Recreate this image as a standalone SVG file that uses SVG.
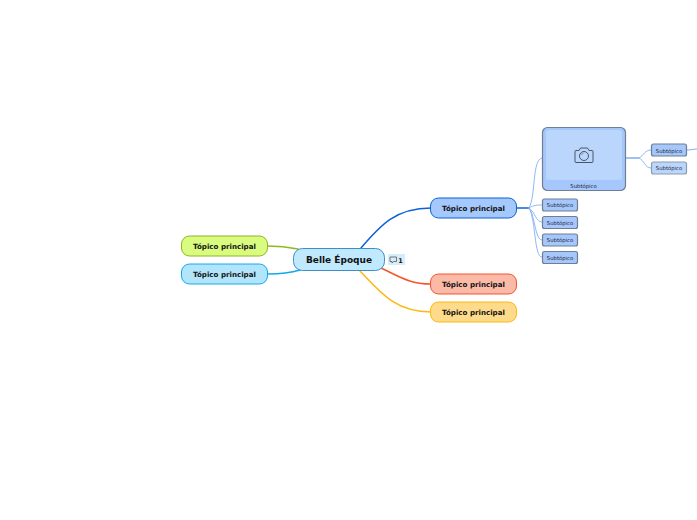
<svg xmlns="http://www.w3.org/2000/svg" width="697" height="520" viewBox="0 0 697 520">
<style>
text{font-family:"DejaVu Sans",Verdana,sans-serif;text-anchor:middle;fill:#111}
.t{font-size:7.1px;font-weight:bold}
.s{font-size:5.3px;fill:#223}
.c{fill:none;stroke-linecap:round}
.l{stroke:#90b8f3;stroke-width:1;fill:none}
.sub{fill:#a5c7fb;stroke:#6f7e96;stroke-width:1.200}
</style>
<rect width="697" height="520" fill="#fff"/>
<g id="connectors">
<path class="c" stroke="#0b62d6" stroke-width="1.500" d="M361 248C380 226 395 208 431 208"/>
<path class="c" stroke="#f4552a" stroke-width="1.500" d="M381 268C400 277 410 284 431 284"/>
<path class="c" stroke="#fdb813" stroke-width="1.500" d="M360 271C380 292 395 312 431 312"/>
<path class="c" stroke="#8fb820" stroke-width="1.500" d="M268 246C280 246 288 247 298 249"/>
<path class="c" stroke="#12a8ee" stroke-width="1.500" d="M268 274C280 274 290 273 300 270"/>
<path class="c" stroke="#0b62d6" stroke-width="1.500" d="M517 208H529"/>
<path class="l" d="M529 208C536 195 532 160 542 158"/>
<path class="l" d="M529 208C534 205 537 205 542 205"/>
<path class="l" d="M529 208C535 212 536 222 542 222"/>
<path class="l" d="M529 208C535 215 535 240 542 240"/>
<path class="l" d="M529 208C536 220 534 257 542 257"/>
<path class="c" stroke="#7fadf0" stroke-width="1.500" d="M626 158H639"/>
<path class="l" d="M639 158C644 155 645 150 651 150"/>
<path class="l" d="M639 158C644 160 645 168 651 168"/>
<path class="c" stroke="#7fadf0" stroke-width="1" d="M687 150C691 150 694 149 697 149"/>
</g>
<g id="root"><rect x="293.500" y="248.500" width="91" height="22" rx="9" fill="#c0e9fd" stroke="#3d8fc9"/><text x="339" y="263" font-size="9" font-weight="bold">Belle Époque</text></g>
<g id="comment-badge"><rect x="388" y="254" width="17" height="11" fill="#d5edf8"/><path d="M390 257h6.500v4.500h-3l-1.500 1.500v-1.500h-2z" fill="none" stroke="#556" stroke-width="0.800"/><text x="400.500" y="262.500" font-size="6.500" font-weight="bold" fill="#667">1</text></g>
<g id="t1"><rect x="430.500" y="198" width="86" height="20" rx="8" fill="#a5c8fd" stroke="#0b62d6"/><text class="t" x="473.500" y="211">Tópico principal</text></g>
<g id="t2"><rect x="430.500" y="274" width="86" height="20" rx="8" fill="#fbbaa8" stroke="#f4552a"/><text class="t" x="473.500" y="287">Tópico principal</text></g>
<g id="t3"><rect x="430.500" y="302" width="86" height="20" rx="8" fill="#fedb8a" stroke="#fdb813"/><text class="t" x="473.500" y="315">Tópico principal</text></g>
<g id="t4"><rect x="181.500" y="236" width="86" height="20" rx="8" fill="#d8fb80" stroke="#8fb820"/><text class="t" x="224.500" y="249">Tópico principal</text></g>
<g id="t5"><rect x="181.500" y="264" width="86" height="20" rx="8" fill="#b1e5fc" stroke="#12a8ee"/><text class="t" x="224.500" y="277">Tópico principal</text></g>
<g id="image-sub"><rect x="542.500" y="127.500" width="83" height="63" rx="5" class="sub"/><rect x="546" y="130" width="76" height="50" rx="3" fill="#bad6fd"/>
<path d="M575 151.500a1 1 0 0 1 1-1h3l1.500-2.500h7l1.500 2.500h3a1 1 0 0 1 1 1v10a1 1 0 0 1-1 1h-16a1 1 0 0 1-1-1z" fill="none" stroke="#4a5568" stroke-width="1"/><circle cx="584" cy="156" r="4.500" fill="none" stroke="#4a5568" stroke-width="1"/><path d="M581.500 155a3 3 0 0 1 2-2" fill="none" stroke="#4a5568" stroke-width="0.600"/>
<text class="s" x="583.500" y="187.500">Subtópico</text></g>
<g id="s1"><rect class="sub" x="542.500" y="199" width="35" height="12" rx="2"/><text class="s" x="560" y="207">Subtópico</text></g>
<g id="s2"><rect class="sub" x="542.500" y="216.500" width="35" height="12" rx="2"/><text class="s" x="560" y="224.500">Subtópico</text></g>
<g id="s3"><rect class="sub" x="542.500" y="234" width="35" height="12" rx="2"/><text class="s" x="560" y="242">Subtópico</text></g>
<g id="s4"><rect class="sub" x="542.500" y="251.500" width="35" height="12" rx="2"/><text class="s" x="560" y="259.500">Subtópico</text></g>
<g id="s5"><rect class="sub" x="651.500" y="144" width="35" height="12" rx="2"/><text class="s" x="669" y="152.500">Subtópico</text></g>
<g id="s6"><rect x="651.500" y="162" width="35" height="12" rx="2" fill="#bad6fd" stroke="#8d9bb0" stroke-width="1.200"/><text class="s" x="669" y="170">Subtópico</text></g>
</svg>
